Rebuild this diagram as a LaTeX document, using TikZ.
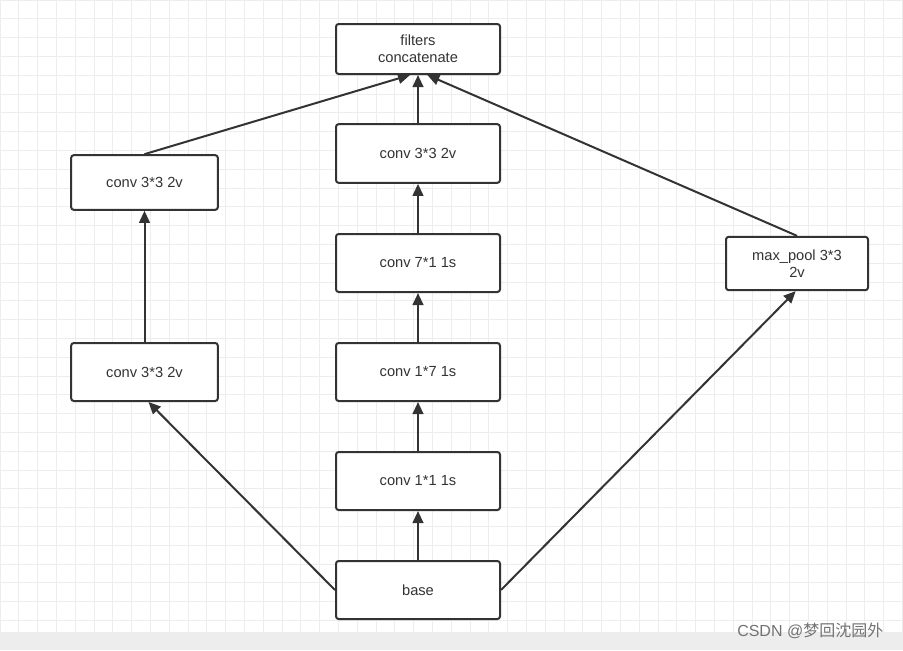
\documentclass[tikz,border=0pt]{standalone}
\usepackage{fontspec}
\setmainfont{Liberation Sans}
\newfontfamily\cjk{Noto Sans CJK SC}
\usetikzlibrary{arrows.meta}
\begin{document}
\begin{tikzpicture}[x=0.75pt,y=-0.75pt,
 box/.style={draw=black!80,line width=1.5pt,rounded corners=2pt,align=center,font=\fontsize{11}{13}\selectfont,text=black!80,fill=white,inner sep=0pt},
 arr/.style={draw=black!80,line width=1.5pt,-{Triangle[length=9pt,width=8pt]}}]
\useasboundingbox (0,0) rectangle (903,650);
\fill[white] (0,0) rectangle (903,650);
\foreach \i in {0,...,48} {\draw[black!7,line width=0.6pt] (\i*18.8,0) -- (\i*18.8,632);}
\foreach \i in {0,...,34} {\draw[black!7,line width=0.6pt] (0,\i*18.8) -- (903,\i*18.8);}
\fill[black!7] (0,632) rectangle (903,650);
\node[box,minimum width=123pt,minimum height=37.5pt] (fc) at (418,49) {filters\\concatenate};
\node[box,minimum width=123pt,minimum height=44pt] (c33) at (418,153.5) {conv 3*3 2v};
\node[box,minimum width=123pt,minimum height=43.5pt] (c71) at (418,263) {conv 7*1 1s};
\node[box,minimum width=123pt,minimum height=43.5pt] (c17) at (418,372) {conv 1*7 1s};
\node[box,minimum width=123pt,minimum height=43.5pt] (c11) at (418,481) {conv 1*1 1s};
\node[box,minimum width=123pt,minimum height=43.5pt] (base) at (418,590) {base};
\node[box,minimum width=110pt,minimum height=41pt] (lt) at (144.5,182.5) {conv 3*3 2v};
\node[box,minimum width=110pt,minimum height=43.5pt] (lb) at (144.5,372) {conv 3*3 2v};
\node[box,minimum width=106.5pt,minimum height=40pt] (mp) at (797,263.5) {max\_pool 3*3\\2v};
\draw[arr] (base) -- (c11);
\draw[arr] (c11) -- (c17);
\draw[arr] (c17) -- (c71);
\draw[arr] (c71) -- (c33);
\draw[arr] (c33) -- (fc);
\draw[arr] (lb) -- (lt);
\draw[arr] (lt.north) -- ([xshift=-6pt]fc.south);
\draw[arr] (mp.north) -- ([xshift=7pt]fc.south);
\draw[arr] (base.west) -- ([xshift=3pt]lb.south);
\draw[arr] (base.east) -- ([xshift=-1pt]mp.south);
\node[font=\fontsize{12}{14}\selectfont,text=black!55,anchor=east] (wm) at (888,631) {CSDN @{\cjk 梦回沈园外}};
\end{tikzpicture}
\end{document}
